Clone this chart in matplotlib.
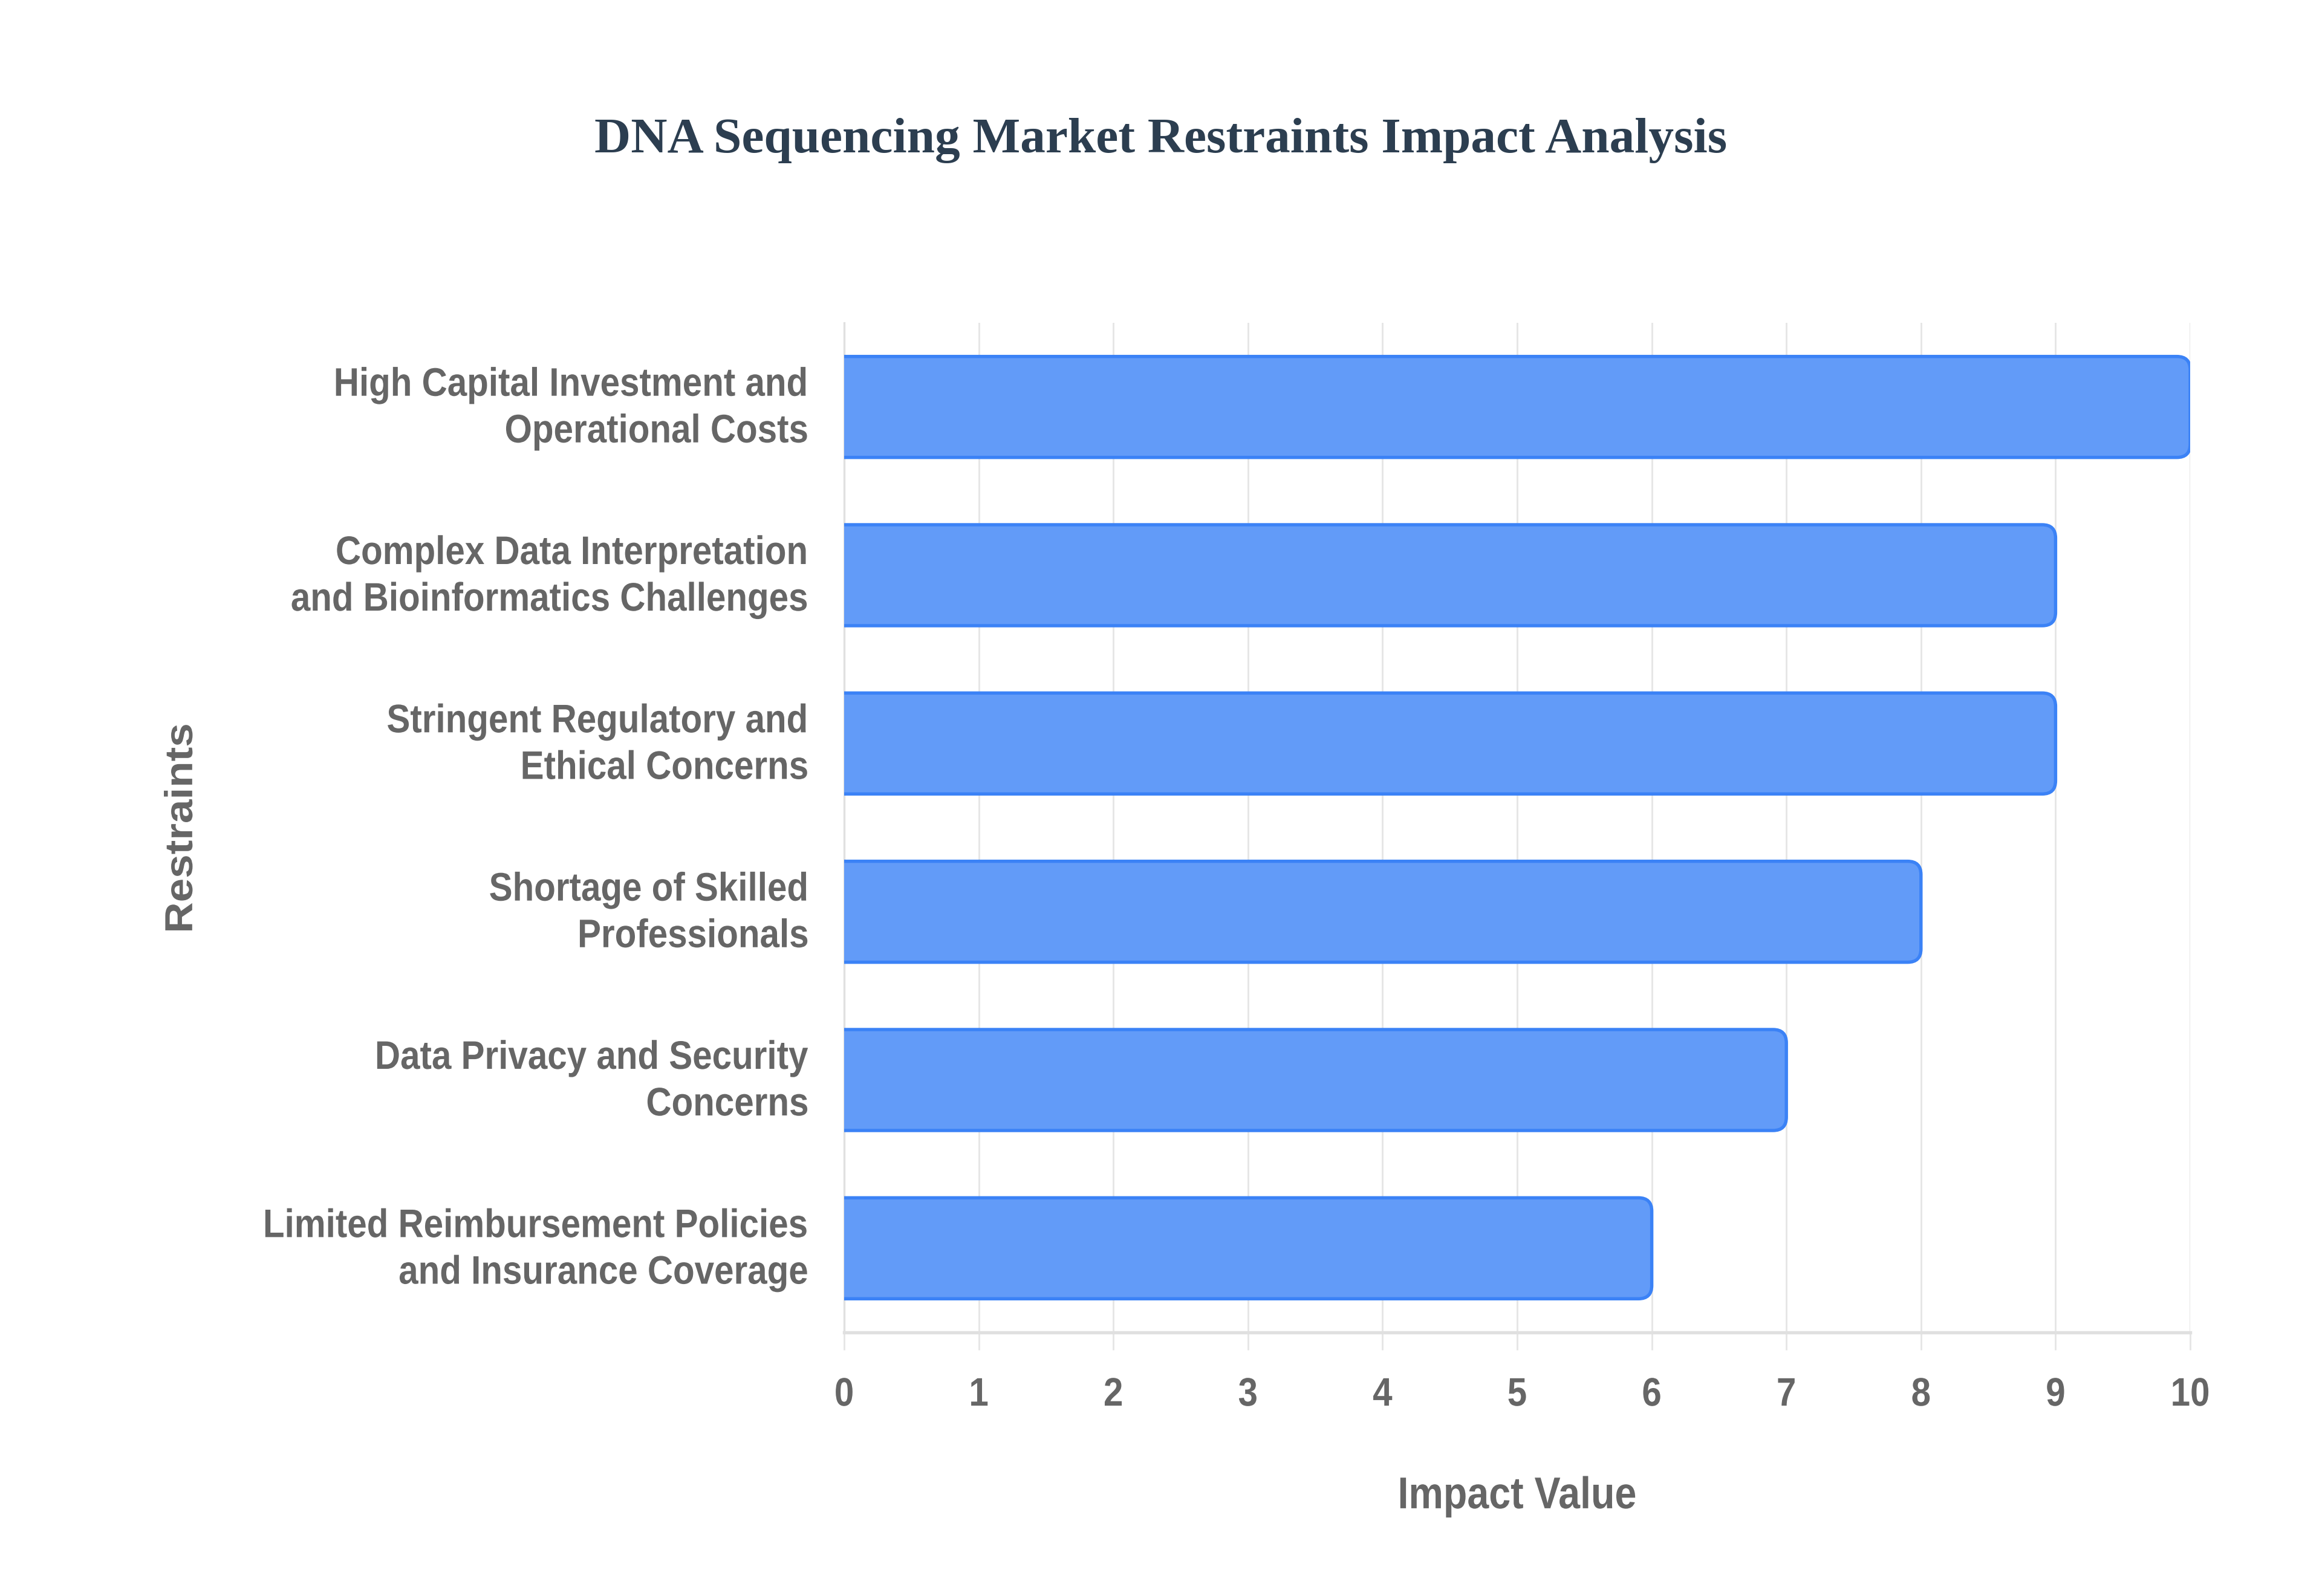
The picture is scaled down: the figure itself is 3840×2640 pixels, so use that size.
import matplotlib
matplotlib.use("Agg")
import matplotlib.pyplot as plt
from matplotlib.patches import FancyBboxPatch
from matplotlib.patheffects import AbstractPathEffect
from matplotlib.transforms import Affine2D

categories = [
    "High Capital Investment and\nOperational Costs",
    "Complex Data Interpretation\nand Bioinformatics Challenges",
    "Stringent Regulatory and\nEthical Concerns",
    "Shortage of Skilled\nProfessionals",
    "Data Privacy and Security\nConcerns",
    "Limited Reimbursement Policies\nand Insurance Coverage",
]
values = [10, 9, 9, 8, 7, 6]
xticks = [0, 1, 2, 3, 4, 5, 6, 7, 8, 9, 10]

title = "DNA Sequencing Market Restraints Impact Analysis"
xlabel = "Impact Value"
ylabel = "Restraints"


class Stretch(AbstractPathEffect):
    """Draw glyphs scaled in glyph coordinates (taller, condensed look)."""
    def __init__(self, sx=1.0, sy=1.0, dy=0.0):
        super().__init__()
        self.sx, self.sy, self.dy = sx, sy, dy

    def draw_path(self, renderer, gc, tpath, affine, rgbFace=None):
        tr = (Affine2D().scale(self.sx, self.sy) + affine
              + Affine2D().translate(0, renderer.points_to_pixels(self.dy)))
        renderer.draw_path(gc, tpath, tr, rgbFace)


W, H, DPI = 12.8, 8.8, 300
fig = plt.figure(figsize=(W, H), dpi=DPI, facecolor="white")
left, right = 1396 / 3840, 3622 / 3840
bottom, top = 1 - 2204 / 2640, 1 - 534 / 2640
ax = fig.add_axes([left, bottom, right - left, top - bottom])

sans = ["Liberation Sans", "DejaVu Sans"]
gray = "#666666"
fill = "#629bf8"
edge = "#3b82f6"

ax.set_xlim(0, 10)
bars = ax.barh(categories, values, height=0.6, color="none", edgecolor="none")
ax.set_ylim(len(categories) - 0.5, -0.5)

# pixel scales for rounded corners
ax_w_px = (right - left) * W * DPI
ax_h_px = (top - bottom) * H * DPI
xu_per_px = 10 / ax_w_px
yu_per_px = len(categories) / ax_h_px
r_px = 22
r_x = r_px * xu_per_px
aspect = yu_per_px / xu_per_px

for rect in bars:
    x0, y0 = rect.get_x(), rect.get_y()
    w, h = rect.get_width(), rect.get_height()
    p = FancyBboxPatch((x0 - 2 * r_x, y0), w + 2 * r_x, h,
                       boxstyle=f"round,pad=0,rounding_size={r_x}",
                       mutation_aspect=aspect,
                       facecolor=fill, edgecolor=edge, linewidth=1.3,
                       zorder=3, clip_on=True)
    ax.add_patch(p)

ax.set_xticks(xticks)
ax.set_xticklabels([str(t) for t in xticks])
ax.grid(axis="x", color="#e6e6e6", linewidth=0.7, zorder=0)
ax.set_axisbelow(True)

for s in ["top", "right"]:
    ax.spines[s].set_visible(False)
ax.spines["bottom"].set_color("#e0e0e0")
ax.spines["bottom"].set_linewidth(1.3)
ax.spines["left"].set_color("#e0e0e0")
ax.spines["left"].set_linewidth(0.8)

ax.tick_params(axis="x", length=7, width=0.7, color="#e6e6e6", pad=12,
               labelsize=14, labelcolor=gray)
ax.tick_params(axis="y", length=0, pad=14, labelsize=14, labelcolor=gray)
for lab in ax.get_xticklabels():
    lab.set_fontfamily(sans)
    lab.set_fontweight("bold")
    lab.set_path_effects([Stretch(1.0, 1.13)])
for lab in ax.get_yticklabels():
    lab.set_fontfamily(sans)
    lab.set_fontweight("bold")
    lab.set_path_effects([Stretch(1.0, 1.13, dy=3.0)])
    lab.set_horizontalalignment("right")
    lab.set_multialignment("right")
    lab.set_linespacing(1.55)

ax.set_xlabel(xlabel, fontsize=15.5, fontweight="bold", color=gray, family=sans,
              path_effects=[Stretch(1.0, 1.14)])
ax.xaxis.set_label_coords(0.5, -0.164)
ax.xaxis.label.set_verticalalignment("center")
ax.set_ylabel(ylabel, fontsize=15.5, fontweight="bold", color=gray, family=sans,
              path_effects=[Stretch(1.1, 1.0)])
ax.yaxis.set_label_coords(-0.492, 0.49)
ax.yaxis.label.set_verticalalignment("center")

fig.text(0.5, 1 - 233 / 2640, title, ha="center", va="center",
         fontsize=20, fontweight="bold", color="#2c3e50",
         family=["Liberation Serif", "DejaVu Serif"])

fig.savefig("out.png", dpi=DPI, facecolor="white")
